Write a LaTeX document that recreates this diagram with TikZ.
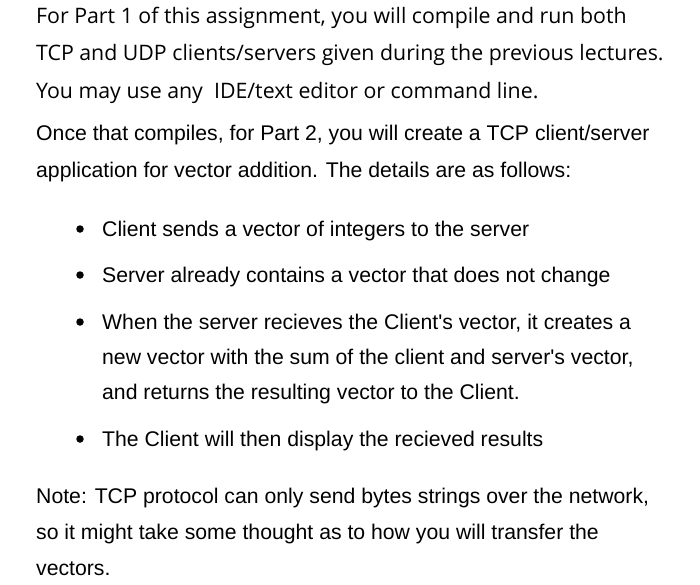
\documentclass[tikz,border=0pt]{standalone}
\usepackage{fontspec}
\newfontfamily\arial{Liberation Sans}
\newfontfamily\opensans{Open Sans}
\begin{document}
\begin{tikzpicture}[x=1bp,y=-1bp,
  txt/.style={anchor=base west,inner sep=0pt,font=\arial\fontsize{21.3}{24}\selectfont},
  txtb/.style={anchor=base west,inner sep=0pt,font=\opensans\fontsize{21.4}{24}\selectfont},
  dot/.style={circle,fill=black,inner sep=0pt,minimum size=7.5bp}]
\useasboundingbox[fill=white] (0,0) rectangle (700,585);
\node[txtb] (l1) at (36,24) {For Part 1 of this assignment, you will compile and run both};
\node[txtb] (l2) at (36,61) {TCP and UDP clients/servers given during the previous lectures.};
\node[txtb] (l3) at (36,99) {You may use any\ \ IDE/text editor or command line.};
\node[txt] (l4) at (36,141) {Once that compiles, for Part 2, you will create a TCP client/server};
\node[txt] (l5) at (36,178) {application for vector addition. The details are as follows:};
\node[dot] (d1) at (80,229) {};
\node[txt] (b1) at (102,236) {Client sends a vector of integers to the server};
\node[dot] (d2) at (80,275) {};
\node[txt] (b2) at (102,282) {Server already contains a vector that does not change};
\node[dot] (d3) at (80,322) {};
\node[txt] (b3) at (102,329) {When the server recieves the Client's vector, it creates a};
\node[txt] (b3b) at (102,364) {new vector with the sum of the client and server's vector,};
\node[txt] (b3c) at (102,399) {and returns the resulting vector to the Client.};
\node[dot] (d4) at (80,439) {};
\node[txt] (b4) at (102,446) {The Client will then display the recieved results};
\node[txt] (n1) at (36,503) {Note: TCP protocol can only send bytes strings over the network,};
\node[txt] (n2) at (36,539) {so it might take some thought as to how you will transfer the};
\node[txt] (n3) at (36,575) {vectors.};
\end{tikzpicture}
\end{document}
